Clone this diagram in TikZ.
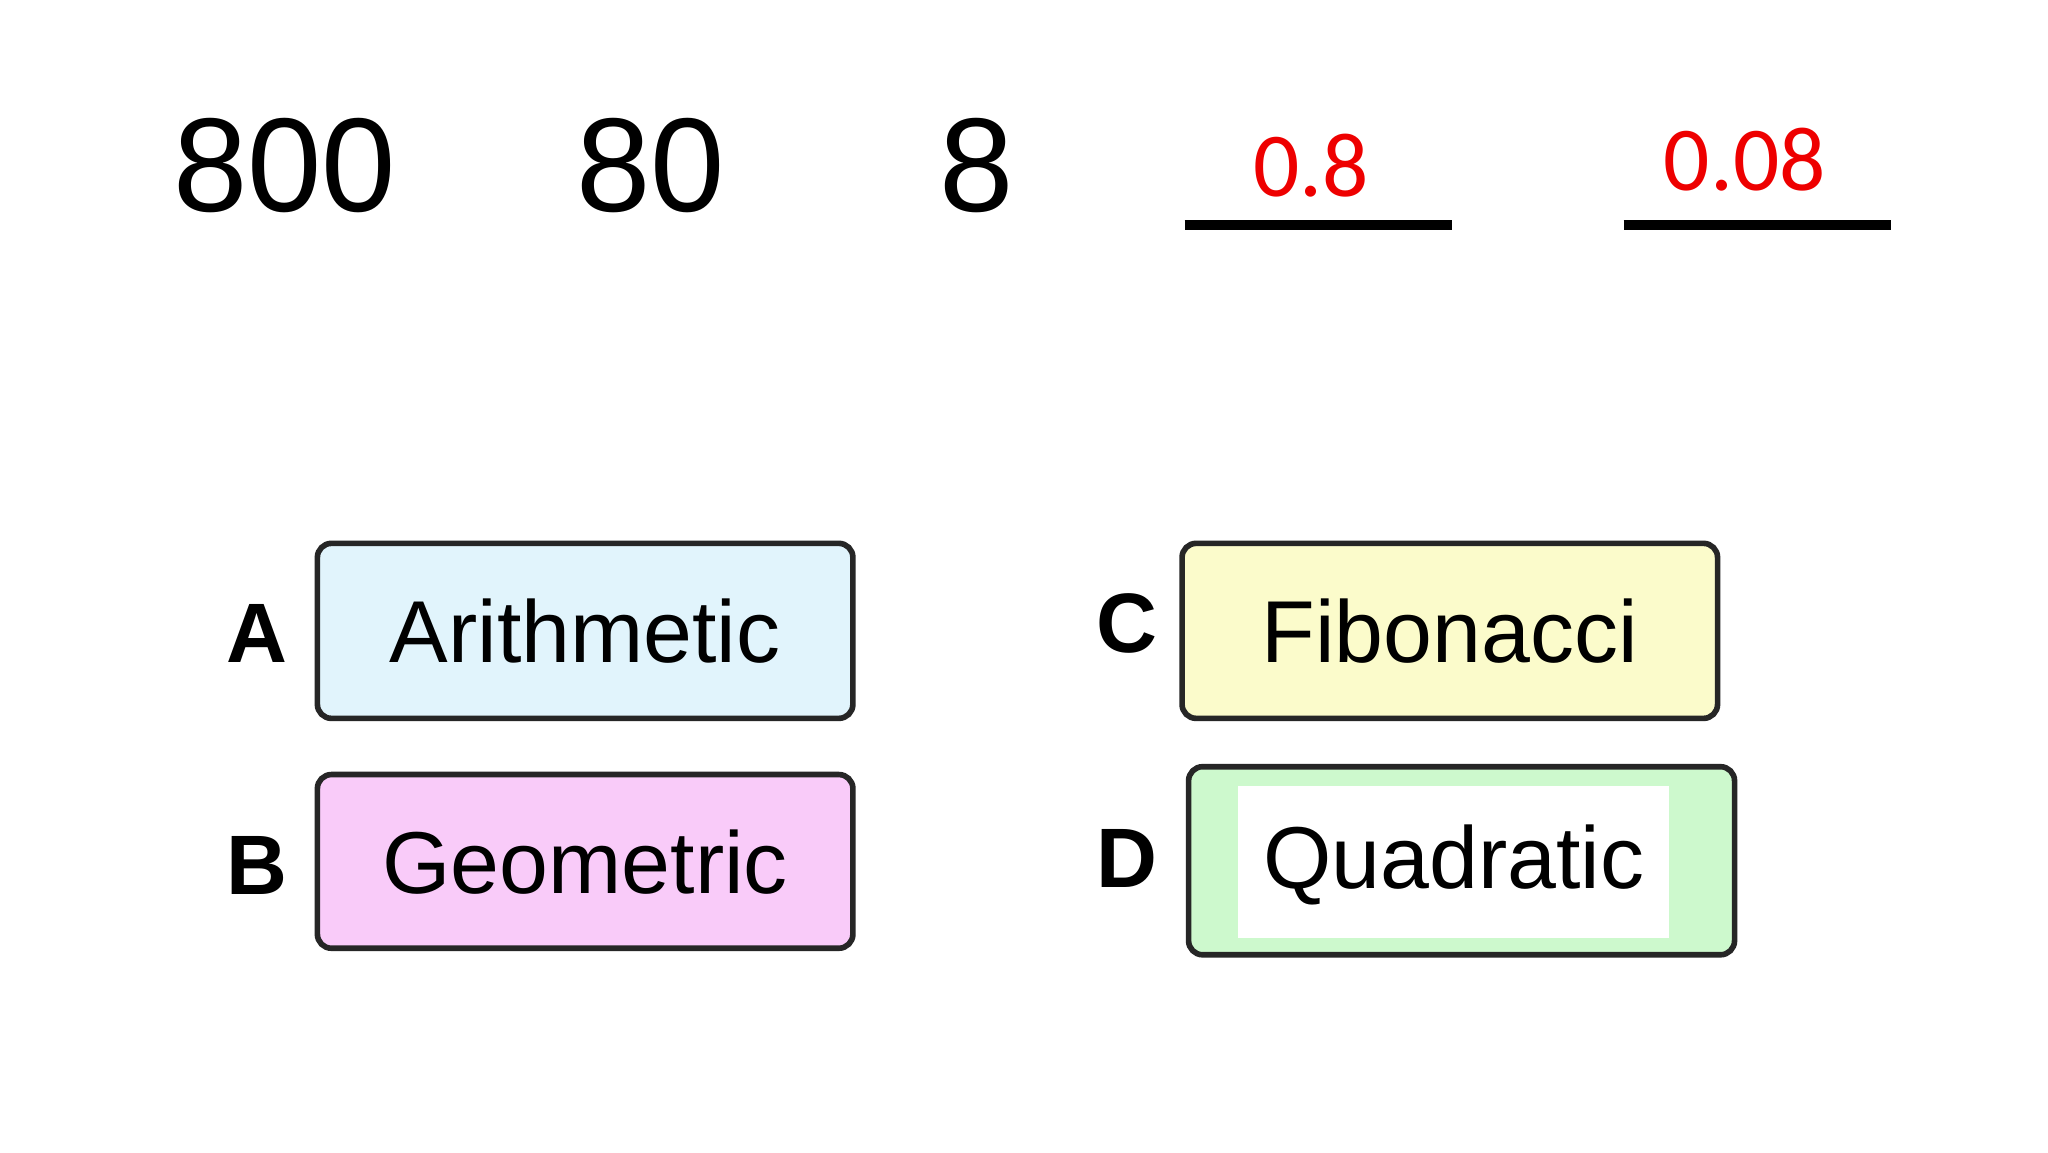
\documentclass[tikz,border=0pt]{standalone}
\usepackage{fontspec}
\setmainfont{Liberation Sans}
\newfontfamily\calib{Carlito}
\definecolor{bA}{HTML}{E1F4FC}
\definecolor{bB}{HTML}{F9CBF9}
\definecolor{bC}{HTML}{FBFBCB}
\definecolor{bD}{HTML}{CDF9CD}
\definecolor{ansred}{HTML}{EE0000}
\tikzset{
  num/.style={font=\fontsize{38}{40}\selectfont, inner sep=0pt},
  ans/.style={font=\calib\fontsize{26}{28}\selectfont, text=ansred, inner sep=0pt},
  blank/.style={line width=2.8pt},
  choice/.style={draw=black!85, line width=1.6pt, rounded corners=4pt},
  ctext/.style={font=\fontsize{25}{27}\selectfont, inner sep=0pt},
  lab/.style={font=\bfseries\fontsize{24}{26}\selectfont, inner sep=0pt}
}
\begin{document}
\begin{tikzpicture}[x=0.1306mm, y=-0.1306mm]
\useasboundingbox[fill=white] (0,0) rectangle (1568,882);
\node[num] (n1) at (218,127) {800};
\node[num] (n2) at (498,127) {80};
\node[num] (n3) at (748,127) {8};
\coordinate (l1a) at (907,172); \coordinate (l1b) at (1112,172);
\coordinate (l2a) at (1243,172); \coordinate (l2b) at (1448,172);
\draw[blank] (l1a) -- (l1b);
\draw[blank] (l2a) -- (l2b);
\node[ans] (a1) at (1004,127) {0.8};
\node[ans] (a2) at (1336,122) {0.08};
% boxes
\draw[choice, fill=bA] (243,416) rectangle (653,550);
\node[ctext] (tA) at (448,483) {Arithmetic};
\node[lab] (lA) at (197,485) {A};
\draw[choice, fill=bB] (243,593) rectangle (653,726);
\node[ctext] (tB) at (448,660) {Geometric};
\node[lab] (lB) at (197,663) {B};
\draw[choice, fill=bC] (905,416) rectangle (1315,550);
\node[ctext] (tC) at (1110,483) {Fibonacci};
\node[lab] (lC) at (863,477) {C};
\draw[choice, fill=bD] (910,587) rectangle (1328,731);
\fill[white] (948,602) rectangle (1278,718);
\node[ctext] (tD) at (1113,662) {Quadratic};
\node[lab] (lD) at (863,657) {D};
\end{tikzpicture}
\end{document}
